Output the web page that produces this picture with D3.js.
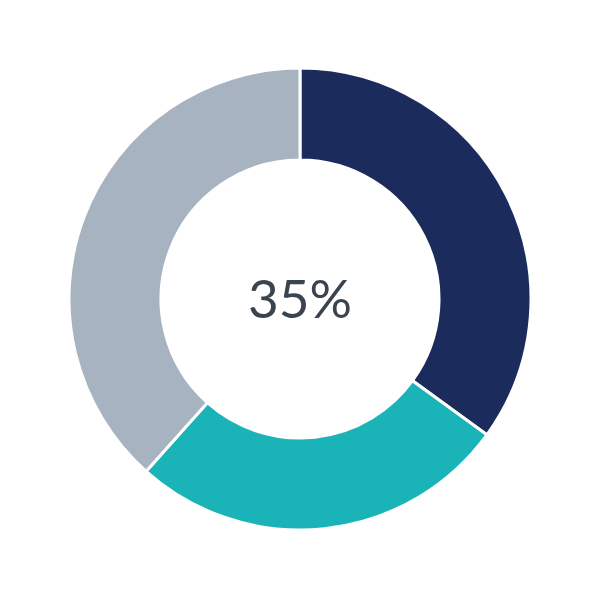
<!DOCTYPE html>
<html>
<head>
<meta charset="utf-8">
<script src="https://cdn.jsdelivr.net/npm/d3@7"></script>
<style>
  body { margin: 0; background: #fff; }
</style>
</head>
<body>
<div id="plot"></div>
<script>
// Data
const categories = ["A", "B", "C"];
const shares = [35, 26.6, 38.4];
const colors = ["#1b2b5b", "#1ab3b7", "#a8b3c2"];
const centerLabel = "35%";

const width = 600, height = 599;
const cx = 300, cy = 299;
const outerR = 231, innerR = 139;

const svg = d3.select("#plot")
  .append("svg")
    .attr("width", width)
    .attr("height", height)
  .append("g")
    .attr("transform", `translate(${cx},${cy})`);

const data = categories.map((c, i) => ({ cat: c, value: shares[i] }));

const color = d3.scaleOrdinal().domain(categories).range(colors);

const pie = d3.pie().value(d => d.value).sort(null);
const arc = d3.arc().innerRadius(innerR).outerRadius(outerR);

svg.selectAll("path")
  .data(pie(data))
  .enter().append("path")
    .attr("d", arc)
    .attr("fill", d => color(d.data.cat))
    .attr("stroke", "#fff")
    .attr("stroke-width", 3);

// center label
svg.append("text")
  .attr("text-anchor", "middle")
  .attr("dy", "0.35em")
  .attr("font-family", "Lato, sans-serif")
  .attr("font-size", 53)
  .attr("fill", "#3a4350")
  .text(centerLabel);
</script>
</body>
</html>
